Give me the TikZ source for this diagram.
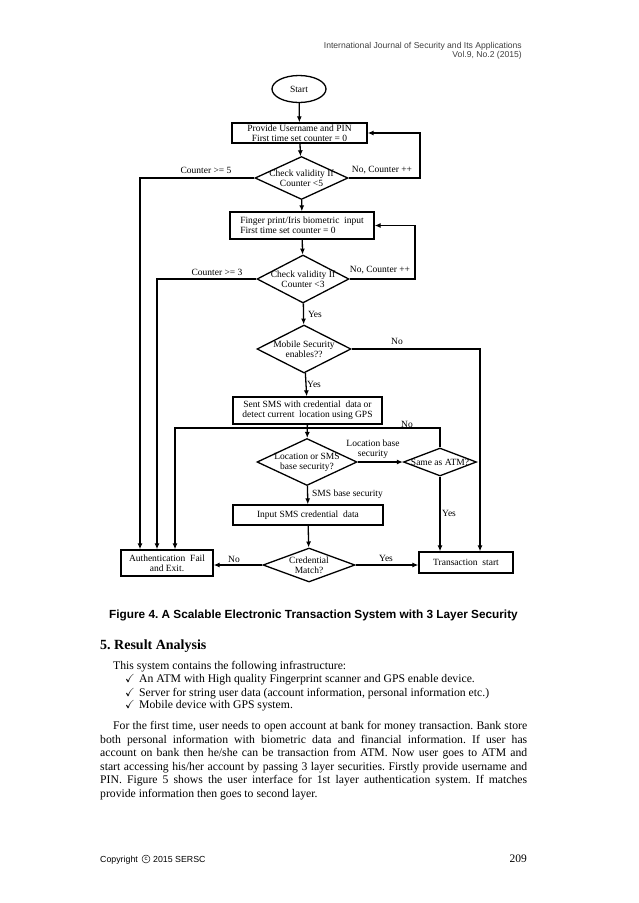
\documentclass[tikz,border=0pt]{standalone}
\usepackage{fontspec}
\usepackage{amssymb}
\setmainfont{Liberation Serif}
\setsansfont{Liberation Sans}
\usetikzlibrary{shapes.geometric,arrows.meta,calc}
\frenchspacing
\begin{document}
\begin{tikzpicture}[x=1pt,y=-1pt,
  fc/.style={font=\fontsize{9.5}{10}\selectfont},
  box/.style={draw,line width=1.3pt,rectangle,inner sep=0pt,align=center,fc},
  dia/.style={draw,line width=1.3pt,diamond,inner sep=0pt},
  dl/.style={align=center,fc,inner sep=0pt},
  arr/.style={line width=1.3pt,-{Latex[length=6pt,width=5pt]}},
  lab/.style={fc,inner sep=0pt},
  body/.style={font=\fontsize{11.7}{13.4}\selectfont,inner sep=0pt,anchor=base west},
  foot/.style={font=\sffamily\fontsize{8.8}{10}\selectfont,inner sep=0pt,anchor=base west},
]
\useasboundingbox[fill=white] (0,0) rectangle (638,903);

% header
\node[font=\sffamily\fontsize{8.6}{9}\selectfont,text=black!75,inner sep=0pt,anchor=base east] (h1) at (522,48) {International Journal of Security and Its Applications};
\node[font=\sffamily\fontsize{8.6}{9}\selectfont,text=black!75,inner sep=0pt,anchor=base east] (h2) at (522,57) {Vol.9, No.2 (2015)};

% flowchart nodes
\node[ellipse,draw,line width=1.3pt,minimum width=54pt,minimum height=27pt,inner sep=0pt,fc] (start) at (299,89) {Start};
\node[box,minimum width=135pt,minimum height=20pt] (prov) at (299.5,133) {Provide Username and PIN\\First time set counter = 0};
\node[dia,minimum width=93pt,minimum height=43pt,label={[dl]center:Check validity If\\Counter <5}] (d1) at (301.5,178) {};
\node[box,minimum width=144pt,minimum height=27pt,align=left] (fing) at (302,225.5) {Finger print/Iris biometric\ \ input\\First time set counter = 0};
\node[dia,minimum width=92pt,minimum height=48pt,label={[dl]center:Check validity If\\Counter <3}] (d2) at (303,279) {};
\node[dia,minimum width=94pt,minimum height=48pt,label={[dl]center:Mobile Security\\enables??}] (d3) at (304,349) {};
\node[box,minimum width=149pt,minimum height=27pt] (sms) at (307.5,410.5) {Sent SMS with credential\ \ data or\\detect current\ \ location using GPS};
\node[dia,minimum width=100pt,minimum height=47pt,label={[dl]center:Location or SMS\\base security?}] (d4) at (307,462) {};
\node[dia,minimum width=73pt,minimum height=28pt,label={[dl]center:Same as ATM?}] (d5) at (440,462) {};
\node[box,minimum width=150pt,minimum height=20pt] (inp) at (308,515) {Input SMS credential\ \ data};
\node[dia,minimum width=92pt,minimum height=34pt,label={[dl]center:Credential\\Match?}] (d6) at (309,565) {};
\node[box,minimum width=92pt,minimum height=26pt] (auth) at (167,563) {Authentication\ \ Fail\\and Exit.};
\node[box,minimum width=94pt,minimum height=21pt] (trans) at (466,562.5) {Transaction\ \ start};

% connectors
\draw[arr] (start) -- (prov);
\draw[arr] (prov) -- (d1);
\coordinate (r1) at (420,178);
\draw[arr] (d1.east) -- (r1) |- (prov.east);
\coordinate (l1) at (140,178);
\draw[arr] (d1.west) -- (l1) -- (l1 |- auth.north);
\draw[arr] (d1) -- (fing);
\draw[arr] (fing) -- (d2);
\coordinate (r2) at (415,279);
\draw[arr] (d2.east) -- (r2) |- (fing.east);
\coordinate (l2) at (157,279);
\draw[arr] (d2.west) -- (l2) -- (l2 |- auth.north);
\draw[arr] (d2) -- (d3);
\coordinate (r3) at (480,349);
\draw[arr] (d3.east) -- (r3) -- (r3 |- trans.north);
\draw[arr] (d3) -- (sms);
\draw[arr] (sms) -- (d4);
\coordinate (n5) at (440,428);
\coordinate (l3) at (175,428);
\draw[arr] (d5.north) -- (n5) -- (l3) -- (l3 |- auth.north);
\draw[arr] (d4.east) -- (d5.west);
\draw[arr] (d5.south) -- (d5.south |- trans.north);
\draw[arr] (d4) -- (inp);
\draw[arr] (inp) -- (d6);
\draw[arr] (d6.west) -- (d6.west -| auth.east);
\draw[arr] (d6.east) -- (d6.east -| trans.west);

% connector labels
\node[lab] (t1) at (206,170) {Counter >= 5};
\node[lab] (t2) at (382,170) {No, Counter ++};
\node[lab] (t3) at (217,272) {Counter >= 3};
\node[lab] (t4) at (380,270) {No, Counter ++};
\node[lab] (t5) at (315,314) {Yes};
\node[lab] (t6) at (397,341) {No};
\node[lab] (t7) at (314,384) {Yes};
\node[lab] (t8) at (407,424) {No};
\node[lab,align=center] (t9) at (373,449.5) {Location base\\security};
\node[lab] (t10) at (347.5,494) {SMS base security};
\node[lab] (t11) at (449,513) {Yes};
\node[lab] (t12) at (234,559) {No};
\node[lab] (t13) at (386,558) {Yes};

% caption and text
\node[font=\sffamily\bfseries\fontsize{11.8}{13}\selectfont,inner sep=0pt,anchor=base] (cap) at (313.5,618) {Figure 4. A Scalable Electronic Transaction System with 3 Layer Security};
\node[font=\bfseries\fontsize{14}{16}\selectfont,inner sep=0pt,anchor=base west] (sec) at (100,649) {5. Result Analysis};
\node[body] (b0) at (113,669) {This system contains the following infrastructure:};
\node[body] (c1) at (125,682) {$\checkmark$};
\node[body] (b1) at (139,682) {An ATM with High quality Fingerprint scanner and GPS enable device.};
\node[body] (c2) at (125,696) {$\checkmark$};
\node[body] (b2) at (139,696) {Server for string user data (account information, personal information etc.)};
\node[body] (c3) at (125,708) {$\checkmark$};
\node[body] (b3) at (139,708) {Mobile device with GPS system.};
\node[body] (p1) at (113,729.5) {\makebox[414pt][s]{For the first time, user needs to open account at bank for money transaction. Bank store}};
\node[body] (p2) at (100,743) {\makebox[427pt][s]{both personal information with biometric data and financial information. If user has}};
\node[body] (p3) at (100,756.5) {\makebox[427pt][s]{account on bank then he/she can be transaction from ATM. Now user goes to ATM and}};
\node[body] (p4) at (100,770) {\makebox[427pt][s]{start accessing his/her account by passing 3 layer securities. Firstly provide username and}};
\node[body] (p5) at (100,783.5) {\makebox[427pt][s]{PIN. Figure 5 shows the user interface for 1st layer authentication system. If matches}};
\node[body] (p6) at (100,797) {provide information then goes to second layer.};

% footer
\node[foot] (f1) at (100,862) {Copyright};
\node[circle,draw,line width=0.45pt,inner sep=0.6pt,minimum size=8pt,font=\sffamily\fontsize{6}{6}\selectfont] (fcirc) at (146,859) {c};
\node[foot] (f3) at (153,862) {2015 SERSC};
\node[font=\fontsize{11.5}{13}\selectfont,inner sep=0pt,anchor=base east] (f2) at (527,862) {209};
\end{tikzpicture}
\end{document}
